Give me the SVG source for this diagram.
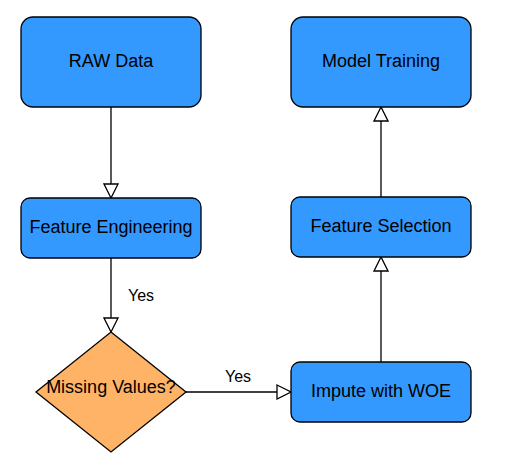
<svg xmlns="http://www.w3.org/2000/svg" width="510" height="475" viewBox="0 0 510 475">
<style>
.box{fill:#3399FF;stroke:#000;stroke-width:1.3}
.dia{fill:#FFB366;stroke:#000;stroke-width:1.3}
.lbl{font-family:"Liberation Sans",Arial,sans-serif;font-size:18px;fill:#000;text-anchor:middle;dominant-baseline:central}
.el{font-family:"Liberation Sans",Arial,sans-serif;font-size:16px;fill:#000;text-anchor:middle;dominant-baseline:central}
.con{stroke:#000;stroke-width:1.3;fill:none}
</style>
<defs>
<marker id="arr" markerWidth="16" markerHeight="16" viewBox="0 0 16 16" refX="15" refY="8" orient="auto" markerUnits="userSpaceOnUse">
<path d="M1,1 L15,8 L1,15 Z" fill="#fff" stroke="#000" stroke-width="1.3"/>
</marker>
</defs>
<rect width="510" height="475" fill="#fff"/>
<g id="connectors">
<line class="con" x1="111" y1="107" x2="111" y2="198" marker-end="url(#arr)"/>
<line class="con" x1="111" y1="258" x2="111" y2="332" marker-end="url(#arr)"/>
<text class="el" x="141" y="295">Yes</text>
<line class="con" x1="186" y1="392" x2="291" y2="392" marker-end="url(#arr)"/>
<text class="el" x="238" y="376">Yes</text>
<line class="con" x1="381" y1="362" x2="381" y2="257" marker-end="url(#arr)"/>
<line class="con" x1="381" y1="197" x2="381" y2="107" marker-end="url(#arr)"/>
</g>
<g id="raw-data">
<rect class="box" x="21" y="17" width="180" height="90" rx="12"/>
<text class="lbl" x="111" y="61">RAW Data</text>
</g>
<g id="feature-engineering">
<rect class="box" x="21" y="198" width="180" height="60" rx="9"/>
<text class="lbl" x="111" y="227">Feature Engineering</text>
</g>
<g id="missing-values">
<polygon class="dia" points="111,332 186,392 111,452 36,392"/>
<text class="lbl" x="111" y="387">Missing Values?</text>
</g>
<g id="impute-woe">
<rect class="box" x="291" y="362" width="180" height="60" rx="9"/>
<text class="lbl" x="381" y="391">Impute with WOE</text>
</g>
<g id="feature-selection">
<rect class="box" x="291" y="197" width="180" height="60" rx="9"/>
<text class="lbl" x="381" y="226">Feature Selection</text>
</g>
<g id="model-training">
<rect class="box" x="291" y="17" width="180" height="90" rx="12"/>
<text class="lbl" x="381" y="61">Model Training</text>
</g>
</svg>
